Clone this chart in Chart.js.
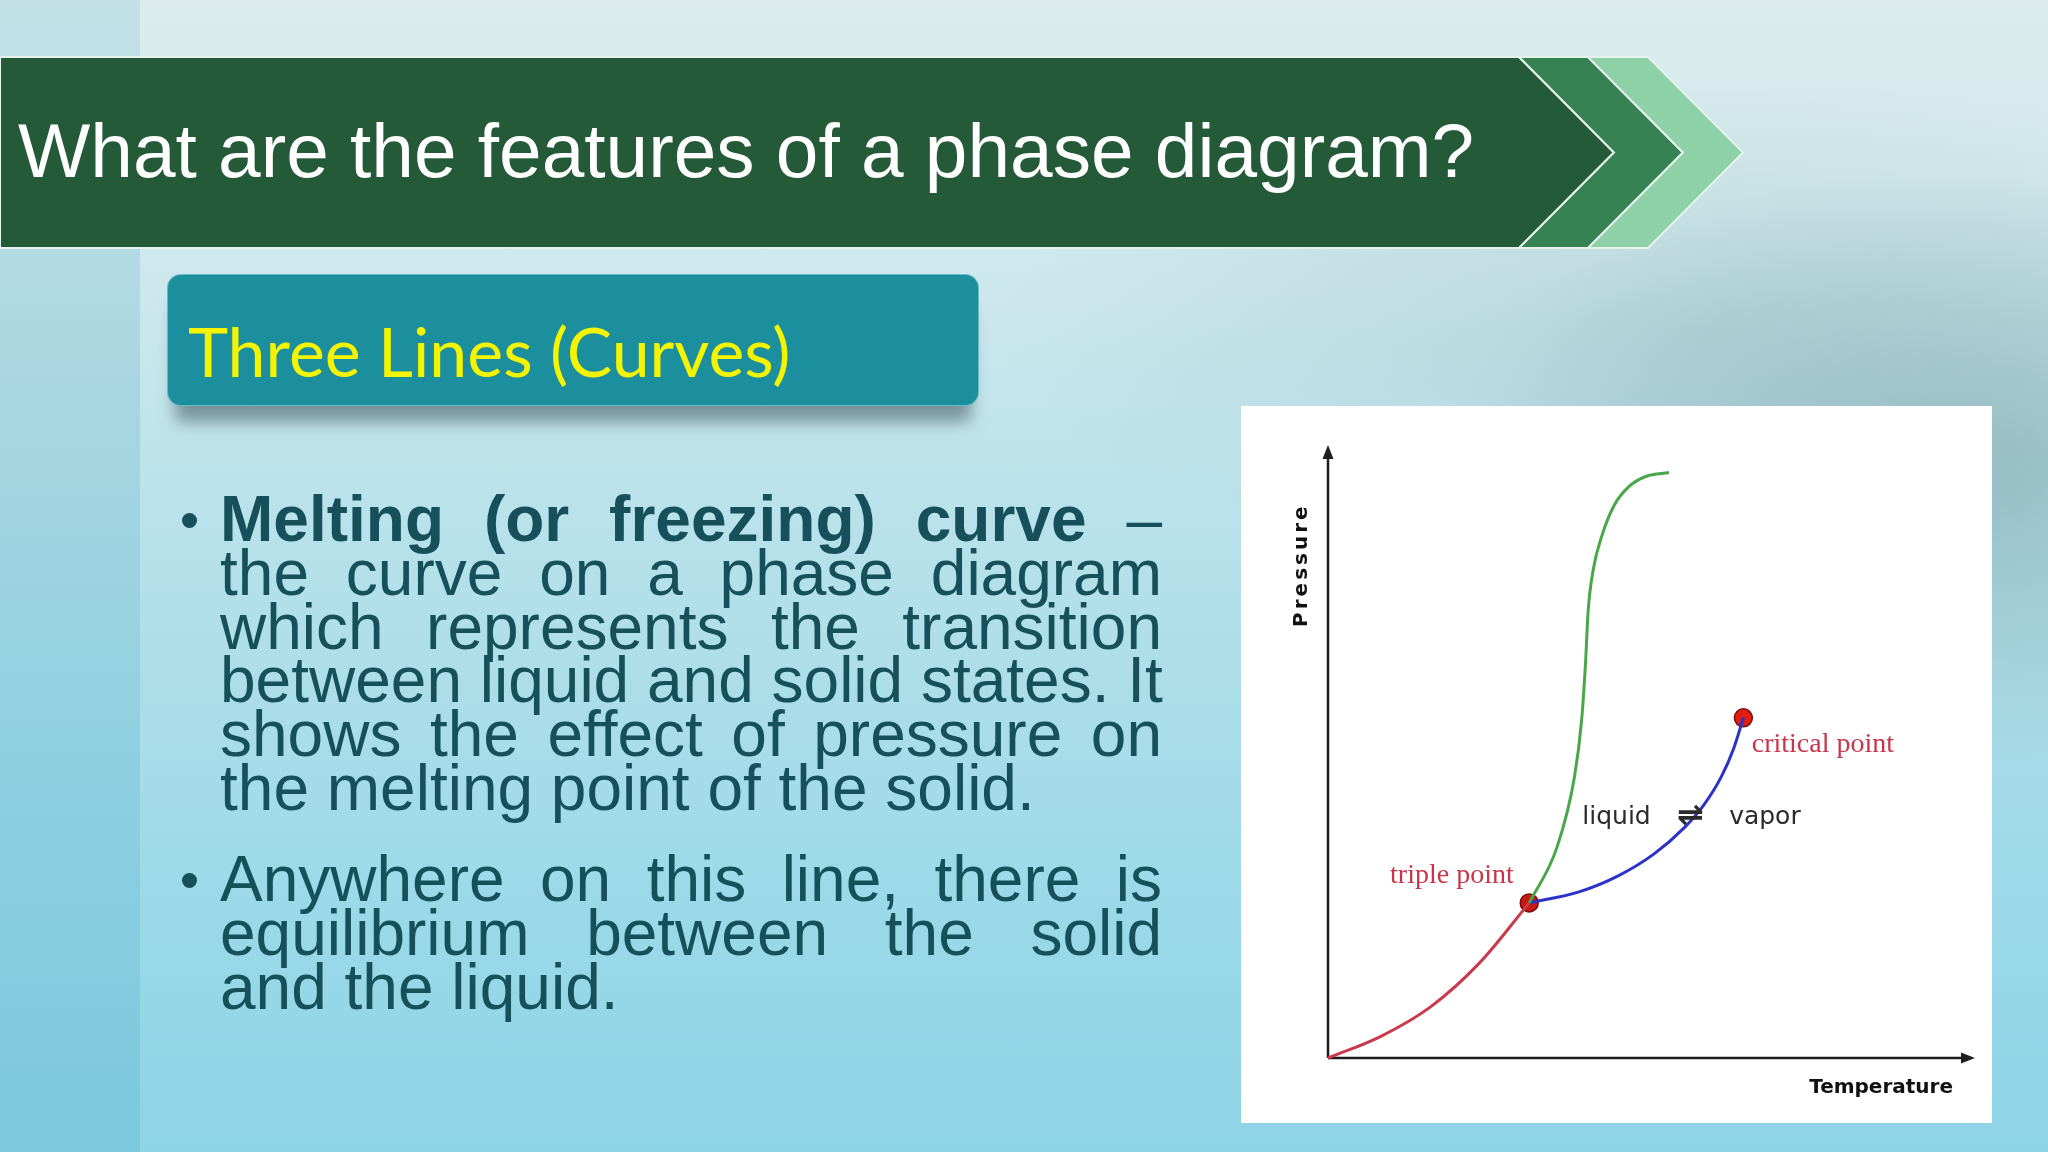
<!DOCTYPE HTML>
<html>

<head>
    <title>Phase Diagram</title>
    <meta charset="utf-8">
    <script src="https://cdn.jsdelivr.net/npm/chart.js@4.4.0/dist/chart.umd.min.js"></script>
    <style>
        html, body {
            margin: 0;
            padding: 0;
            width: 2048px;
            height: 1152px;
            overflow: hidden;
        }

        body {
            position: relative;
            font-family: "Liberation Sans", Arial, sans-serif;
            background:
                radial-gradient(ellipse 520px 300px at 1960px 470px, rgba(120, 160, 165, 0.55), rgba(120, 160, 165, 0) 100%),
                radial-gradient(ellipse 700px 260px at 1700px 330px, rgba(150, 185, 190, 0.35), rgba(150, 185, 190, 0) 100%),
                linear-gradient(to bottom, #dcecee 0%, #cde8ed 25%, #b4e0ea 50%, #9cd9e8 78%, #8dd4e6 100%);
        }

        /* darker strip on the left */
        .strip {
            position: absolute;
            left: 0;
            top: 0;
            width: 140px;
            height: 1152px;
            background: linear-gradient(to bottom, #c3e1e7 0%, #a8d6e1 35%, #8ccfe0 70%, #7cc8dd 100%);
        }

        #banner {
            position: absolute;
            left: 0;
            top: 0;
        }

        .title {
            position: absolute;
            left: 18px;
            top: 112px;
            font-size: 76.6px;
            line-height: 77px;
            color: #ffffff;
            white-space: nowrap;
        }

        .subhead {
            position: absolute;
            left: 167px;
            top: 274px;
            width: 812px;
            height: 132px;
            background: #1b8f9e;
            border-radius: 14px;
            border: 1px solid rgba(200, 240, 245, 0.45);
            box-sizing: border-box;
            box-shadow: 0 24px 16px -8px rgba(60, 80, 90, 0.55);
        }

        .subhead span {
            position: absolute;
            left: 20px;
            top: 42px;
            font-family: Lato, "Open Sans", sans-serif;
            font-size: 68px;
            line-height: 68px;
            color: #f4f400;
            white-space: nowrap;
        }

        .line {
            position: absolute;
            left: 220px;
            width: 942px;
            height: 54px;
            font-size: 64px;
            line-height: 53.8px;
            color: #16505b;
            text-align: justify;
            text-align-last: justify;
            white-space: nowrap;
        }

        .line.last {
            text-align-last: left;
        }

        .line b {
            font-weight: bold;
        }

        .dot {
            position: absolute;
            left: 182px;
            width: 15px;
            height: 15px;
            border-radius: 50%;
            background: #16505b;
        }

        .panel {
            position: absolute;
            left: 1241px;
            top: 406px;
            width: 751px;
            height: 717px;
            background: #ffffff;
        }
    </style>
</head>

<body>
    <div class="strip"></div>

    <svg id="banner" width="1800" height="300">
        <polygon points="0,57 1519,57 1614,152.5 1519,248 0,248" fill="#245a38" stroke="#e6f3ec" stroke-width="2" />
        <polygon points="1519,57 1588,57 1683,152.5 1588,248 1519,248 1614,152.5" fill="#378252" stroke="#e6f3ec" stroke-width="2" />
        <polygon points="1588,57 1648,57 1743,152.5 1648,248 1588,248 1683,152.5" fill="#8ed0a7" stroke="#e6f3ec" stroke-width="2" />
    </svg>
    <div class="title">What are the features of a phase diagram?</div>

    <div class="subhead"><span>Three Lines (Curves)</span></div>

    <div id="text"></div>

    <div class="panel">
        <canvas id="phase-chart" width="751" height="717"></canvas>
    </div>

    <script>
        // axis ranges (arbitrary units, axes have no ticks)
        var tempMax = 100;
        var presMax = 100;

        // solid-vapor (sublimation) curve, red
        var subTemp = [0, 8.1, 15.8, 23.5, 31.1];
        var subPres = [0, 3.5, 8.3, 15.6, 25.3];

        // solid-liquid (melting) curve, green
        var meltTemp = [31.1, 35.4, 38.1, 39.2, 39.8, 40.2, 41.0, 42.3, 44.2, 46.5, 49.2, 52.7];
        var meltPres = [25.3, 34.4, 45.9, 55.1, 64.4, 72.8, 79.7, 85.1, 90.1, 93.2, 94.9, 95.5];

        // liquid-vapor (boiling) curve, blue
        var vapTemp = [31.1, 38.8, 45.0, 50.4, 55.0, 58.1, 60.8, 62.7, 64.2];
        var vapPres = [25.3, 27.1, 29.8, 33.3, 37.5, 41.3, 45.9, 50.5, 55.5];

        // triple point and critical point
        var pointNames = ['triple point', 'critical point'];
        var pointTemp = [31.1, 64.2];
        var pointPres = [25.3, 55.5];

        var axisTitles = ['Temperature', 'Pressure'];

        // bullet text, one entry per printed line
        var bullets = [
            ['<b>Melting (or freezing) curve</b> –',
                'the curve on a phase diagram',
                'which represents the transition',
                'between liquid and solid states. It',
                'shows the effect of pressure on',
                'the melting point of the solid.'],
            ['Anywhere on this line, there is',
                'equilibrium between the solid',
                'and the liquid.']
        ];

        /************************************/

        var textBox = document.getElementById('text');
        var firstBaseline = [542, 902];
        bullets.forEach(function (lines, b) {
            var dot = document.createElement('div');
            dot.className = 'dot';
            dot.style.top = (firstBaseline[b] - 29) + 'px';
            textBox.appendChild(dot);
            lines.forEach(function (txt, i) {
                var d = document.createElement('div');
                d.className = 'line' + (i == lines.length - 1 ? ' last' : '');
                d.style.top = (firstBaseline[b] + i * 53.8 - 49.1) + 'px';
                d.innerHTML = txt;
                textBox.appendChild(d);
            });
        });

        function pairs(xs, ys) {
            return xs.map(function (v, i) { return { x: v, y: ys[i] }; });
        }

        var curveStyle = {
            showLine: true,
            pointRadius: 0,
            borderWidth: 3,
            fill: false,
            cubicInterpolationMode: 'monotone',
            clip: false
        };

        // axes with arrowheads, axis titles and the point labels
        var phaseDecor = {
            id: 'phaseDecor',
            beforeDatasetsDraw: function (chart) {
                var ctx = chart.ctx;
                var x = chart.scales.x, y = chart.scales.y;
                var x0 = x.getPixelForValue(0), y0 = y.getPixelForValue(0);
                var xEnd = x.getPixelForValue(tempMax), yEnd = y.getPixelForValue(presMax);

                ctx.save();
                ctx.strokeStyle = '#1e1e1e';
                ctx.fillStyle = '#1e1e1e';
                ctx.lineWidth = 2.5;
                ctx.beginPath();
                ctx.moveTo(x0, y0);
                ctx.lineTo(xEnd - 10, y0);
                ctx.moveTo(x0, y0);
                ctx.lineTo(x0, yEnd + 10);
                ctx.stroke();

                ctx.beginPath();
                ctx.moveTo(xEnd, y0);
                ctx.lineTo(xEnd - 14, y0 - 5.5);
                ctx.lineTo(xEnd - 14, y0 + 5.5);
                ctx.closePath();
                ctx.fill();

                ctx.beginPath();
                ctx.moveTo(x0, yEnd);
                ctx.lineTo(x0 - 5.5, yEnd + 14);
                ctx.lineTo(x0 + 5.5, yEnd + 14);
                ctx.closePath();
                ctx.fill();

                // axis titles
                ctx.font = 'bold 20px "DejaVu Sans", sans-serif';
                ctx.fillStyle = '#111';
                ctx.textBaseline = 'middle';
                ctx.textAlign = 'right';
                ctx.fillText(axisTitles[0], x.getPixelForValue(96.6), y.getPixelForValue(-4.9));

                ctx.translate(x.getPixelForValue(-4.0), y.getPixelForValue(80.4));
                ctx.rotate(-Math.PI / 2);
                ctx.textAlign = 'center';
                ctx.letterSpacing = '3px';
                ctx.fillText(axisTitles[1], 0, 0);
                ctx.restore();
            },
            afterDatasetsDraw: function (chart) {
                var ctx = chart.ctx;
                var x = chart.scales.x, y = chart.scales.y;
                ctx.save();
                ctx.textBaseline = 'middle';

                ctx.font = '28px "Liberation Serif", "DejaVu Serif", serif';
                ctx.fillStyle = '#c8344a';
                ctx.textAlign = 'right';
                ctx.fillText(pointNames[0], x.getPixelForValue(28.7), y.getPixelForValue(29.7));
                ctx.textAlign = 'left';
                ctx.fillText(pointNames[1], x.getPixelForValue(65.5), y.getPixelForValue(51.2));

                ctx.font = '25px "DejaVu Sans", sans-serif';
                ctx.fillStyle = '#2b2b2b';
                ctx.fillText('liquid', x.getPixelForValue(39.3), y.getPixelForValue(39.3));
                ctx.textAlign = 'left';
                ctx.fillText('vapor', x.getPixelForValue(62.0), y.getPixelForValue(39.3));
                ctx.font = 'bold 32px "DejaVu Sans", sans-serif';
                ctx.textAlign = 'center';
                ctx.fillText('\u21CC', x.getPixelForValue(56.0), y.getPixelForValue(39.3));
                ctx.restore();
            }
        };

        var chart = new Chart(document.getElementById('phase-chart'), {
            type: 'scatter',
            data: {
                datasets: [
                    Object.assign({ label: 'sublimation', data: pairs(subTemp, subPres), borderColor: '#c83a4c' }, curveStyle),
                    Object.assign({ label: 'melting', data: pairs(meltTemp, meltPres), borderColor: '#49a74a' }, curveStyle),
                    Object.assign({ label: 'boiling', data: pairs(vapTemp, vapPres), borderColor: '#2a32c8' }, curveStyle),
                    {
                        label: 'points',
                        data: pairs(pointTemp, pointPres),
                        showLine: false,
                        pointRadius: 9,
                        backgroundColor: ['#c81810', '#e01e16'],
                        borderColor: '#7a0c06',
                        borderWidth: 1.5,
                        clip: false
                    }
                ]
            },
            options: {
                responsive: false,
                animation: false,
                layout: {
                    padding: { left: 87, right: 17, top: 39, bottom: 65 }
                },
                plugins: {
                    legend: { display: false },
                    tooltip: { enabled: false }
                },
                scales: {
                    x: { type: 'linear', min: 0, max: tempMax, display: false },
                    y: { type: 'linear', min: 0, max: presMax, display: false }
                }
            },
            plugins: [phaseDecor]
        });
    </script>
</body>

</html>
